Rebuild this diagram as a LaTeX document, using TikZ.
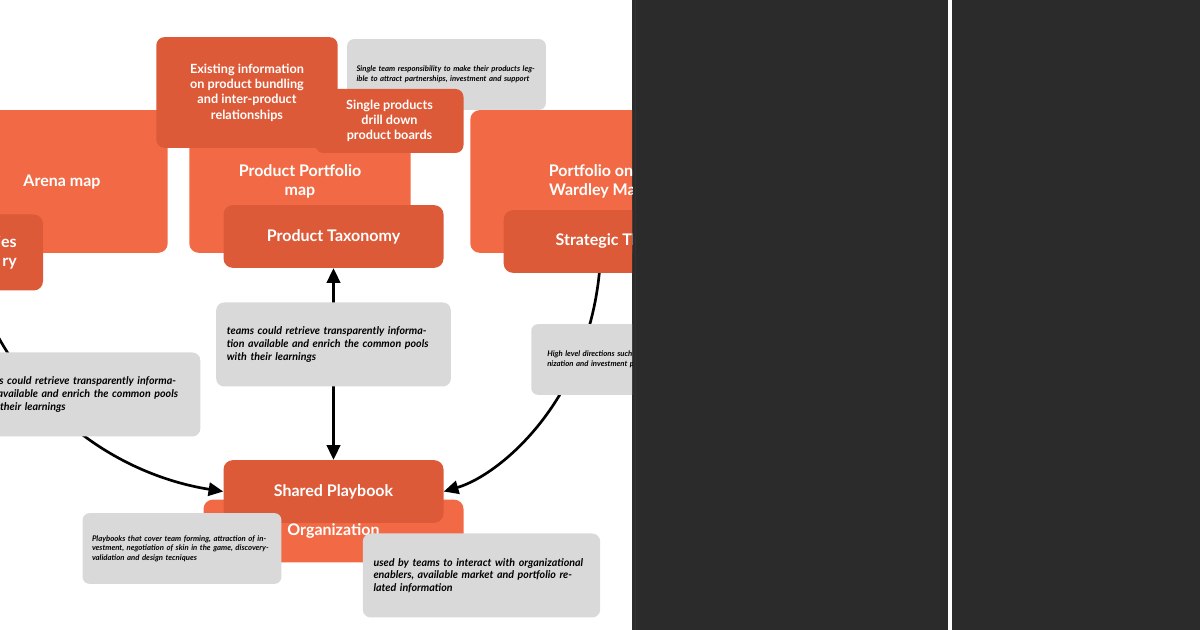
\documentclass[tikz,border=0pt]{standalone}
\usepackage{fontspec}
\setmainfont{Lato}
\usetikzlibrary{arrows.meta}
\definecolor{lor}{HTML}{F26A45}
\definecolor{dor}{HTML}{DC5A38}
\definecolor{nt}{HTML}{D9D9D9}
\definecolor{bg}{HTML}{2B2B2B}
\definecolor{disk}{HTML}{686868}
\tikzset{
 box/.style={rounded corners=7pt,inner sep=0pt,text=white,font=\fontsize{12}{14}\selectfont\bfseries,align=center},
 sbox/.style={rounded corners=6pt,inner sep=0pt,text=white,font=\fontsize{9.5}{11.5}\selectfont\bfseries,align=center},
 note/.style={rounded corners=6pt,fill=nt,inner sep=0pt,font=\fontsize{8}{9.6}\selectfont\bfseries\itshape,align=left},
 snote/.style={rounded corners=5pt,fill=nt,inner sep=0pt,font=\fontsize{5.8}{7.2}\selectfont\bfseries\itshape,align=left},
 arr/.style={line width=2pt,-{Triangle[length=11pt,width=10pt]}},
}
\begin{document}
\begin{tikzpicture}[x=0.75pt,y=-0.75pt]
\useasboundingbox (0,0) rectangle (1200,630);
\fill[white] (0,0) rectangle (632,630);
\fill[bg] (632,0) rectangle (1200,630);
\begin{scope}
\clip (632,0) rectangle (1200,630);
\fill[disk] (635,0) arc[start angle=90,end angle=-90,radius=315] -- cycle;
\fill[disk] (635,0) ++(0,0) -- (635,630) -- cycle;
\end{scope}
\fill[disk] (636,0) arc[start angle=90,end angle=-90,x radius=312,y radius=315] -- cycle;
\fill[white] (948,0) rectangle (952,630);
\begin{scope}
\clip (952,0) rectangle (1200,630);
\fill[disk] (955,0) arc[start angle=90,end angle=-90,x radius=312,y radius=315] -- cycle;
\end{scope}
\begin{scope}
\clip (0,0) rectangle (632,630);
% hidden anchors
\coordinate (la) at (-20,300);
\coordinate (ra) at (600,265);
% arrows
\node[inner sep=0pt,minimum width=165,minimum height=47] (sp0) at (333.5,491.5) {};
\node[inner sep=0pt,minimum width=165,minimum height=47] (pt0) at (333.5,236.5) {};
\draw[arr,{Triangle[length=11pt,width=10pt]}-{Triangle[length=11pt,width=10pt]}] (pt0.south) -- (sp0.north);
\draw[arr] (la) .. controls (40,440) and (150,480) .. (sp0.west);
\draw[arr] (ra) .. controls (590,400) and (500,475) .. (sp0.east);
% boxes
\node[box,fill=lor,minimum width=160,minimum height=107] (arena) at (61,181.5) {};
\node[box] at (62,182) {Arena map};
\node[box,fill=dor,minimum width=60,minimum height=57] (inv) at (3,252.5) {};
\node[box,anchor=east,align=right] at (17,252.5) {ies\\ry};
\node[box,fill=lor,minimum width=166,minimum height=107] (ppm) at (300,181.5) {Product Portfolio\\map};
\node[sbox,fill=dor,minimum width=136,minimum height=83] (exist) at (247,92.5) {Existing information\\on product bundling\\and inter-product\\relationships};
\node[snote,text width=135,minimum height=53,inner xsep=7pt] (stn) at (446.5,74.5) {Single team responsibility to make their products legible to attract partnerships, investment and support};
\node[sbox,fill=dor,minimum width=111,minimum height=48] (single) at (389.5,121) {Single products\\drill down\\product boards};
\node[box,fill=dor,minimum width=165,minimum height=47] (pt) at (333.5,236.5) {Product Taxonomy};
\node[box,fill=lor,minimum width=190,minimum height=107] (wm) at (597,181.5) {Portfolio on a\\Wardley Map};
\node[box,fill=dor,minimum width=170,minimum height=47] (st) at (617,241.5) {Strategic Themes};
% notes
\node[note,text width=160,minimum height=63,inner xsep=8pt] (mn) at (333.5,344.5) {teams could retrieve transparently information available and enrich the common pools with their learnings};
\node[note,text width=160,minimum height=63,inner xsep=8pt] (ln) at (83,394.5) {teams could retrieve transparently information available and enrich the common pools with their learnings};
\node[snote,text width=125,minimum height=53,inner xsep=12pt,anchor=west] (rn) at (531,359.5) {High level directions such as interest of the organization and investment policies};
\node[box,fill=lor,minimum width=195,minimum height=47] (org) at (333.5,531) {\raisebox{0pt}{Organization}};
\node[box,fill=dor,minimum width=165,minimum height=47] (sp) at (333.5,491.5) {Shared Playbook};
\node[snote,text width=135,minimum height=53,inner xsep=7pt] (pb) at (182,548.5) {Playbooks that cover team forming, attraction of investment, negotiation of skin in the game, discovery-validation and design tecniques};
\node[note,text width=162,minimum height=63,inner xsep=8pt] (ub) at (481.5,575.5) {used by teams to interact with organizational enablers, available market and portfolio related information};
\end{scope}
\end{tikzpicture}
\end{document}
